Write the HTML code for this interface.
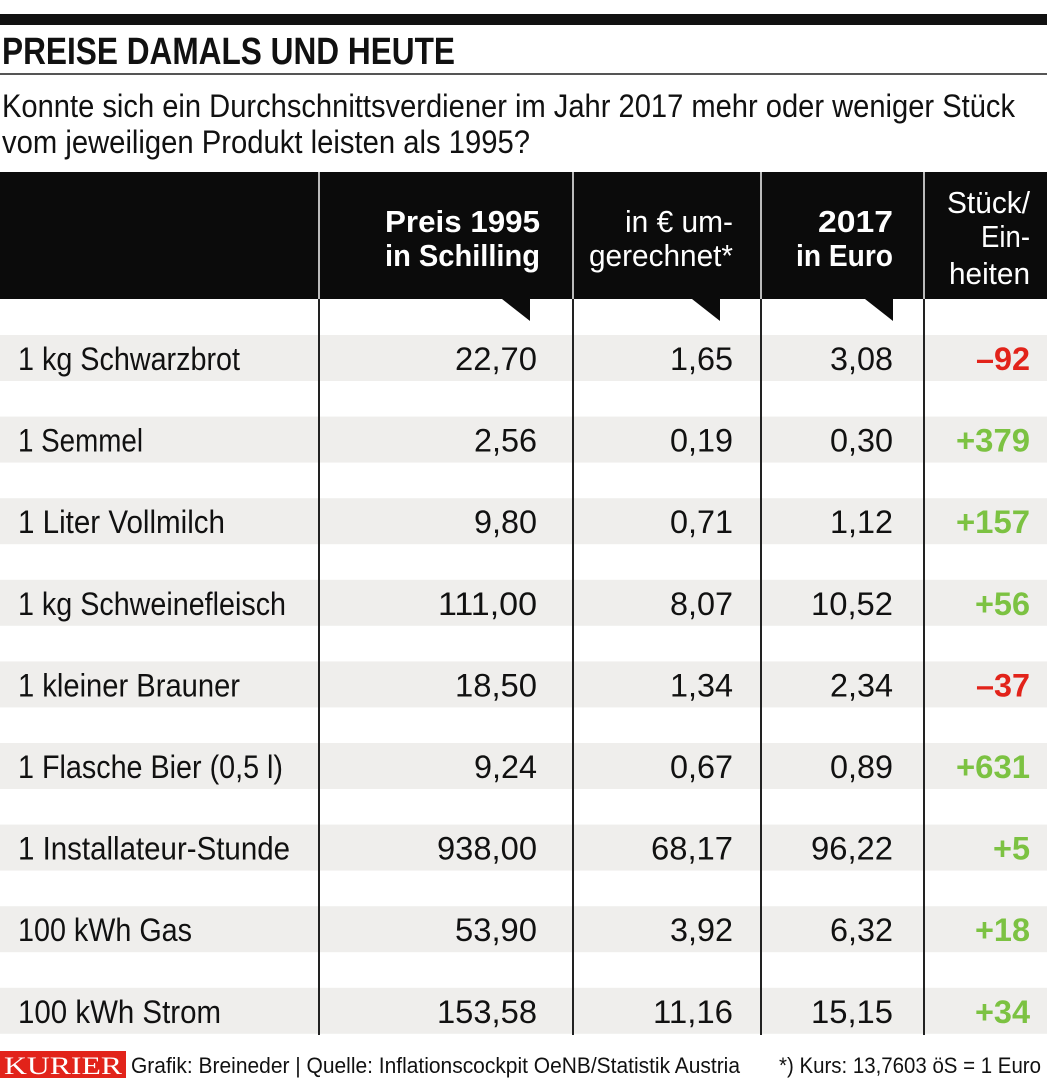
<!DOCTYPE html>
<html><head><meta charset="utf-8"><style>
html,body{margin:0;padding:0;background:#fff;}
svg{display:block;}
text{font-family:"Liberation Sans",sans-serif;}
</style></head><body>
<svg width="1047" height="1080" viewBox="0 0 1047 1080" xmlns="http://www.w3.org/2000/svg">
<rect x="0" y="14" width="1047" height="11" fill="#111"/>
<text x="2" y="64" font-size="38" font-weight="bold" fill="#111" textLength="453" lengthAdjust="spacingAndGlyphs">PREISE DAMALS UND HEUTE</text>
<rect x="0" y="73" width="1047" height="2" fill="#555"/>
<text x="2" y="117" font-size="32" fill="#111" textLength="1013" lengthAdjust="spacingAndGlyphs">Konnte sich ein Durchschnittsverdiener im Jahr 2017 mehr oder weniger Stück</text>
<text x="2" y="153" font-size="32" fill="#111" textLength="528" lengthAdjust="spacingAndGlyphs">vom jeweiligen Produkt leisten als 1995?</text>
<rect x="0" y="172" width="1047" height="127" fill="#0b0b0b"/>
<g fill="#fff" font-size="31">
<text x="385" y="232" font-weight="bold" textLength="155" lengthAdjust="spacingAndGlyphs">Preis 1995</text>
<text x="385" y="266" font-weight="bold" textLength="155" lengthAdjust="spacingAndGlyphs">in Schilling</text>
<text x="625" y="232" textLength="108" lengthAdjust="spacingAndGlyphs">in € um-</text>
<text x="589" y="266" textLength="144" lengthAdjust="spacingAndGlyphs">gerechnet*</text>
<text x="818" y="232" font-weight="bold" textLength="75" lengthAdjust="spacingAndGlyphs">2017</text>
<text x="796" y="266" font-weight="bold" textLength="97" lengthAdjust="spacingAndGlyphs">in Euro</text>
<text x="947" y="213" textLength="83" lengthAdjust="spacingAndGlyphs">Stück/</text>
<text x="981" y="247" textLength="49" lengthAdjust="spacingAndGlyphs">Ein-</text>
<text x="949" y="284" textLength="81" lengthAdjust="spacingAndGlyphs">heiten</text>
</g>
<g fill="#0b0b0b">
<polygon points="502,299 530,299 530,321"/>
<polygon points="692,299 720,299 720,321"/>
<polygon points="865,299 893,299 893,321"/>
</g>
<g fill="#efeeec">
<rect x="0" y="335" width="1047" height="46"/>
<rect x="0" y="416.6" width="1047" height="46"/>
<rect x="0" y="498.2" width="1047" height="46"/>
<rect x="0" y="579.8" width="1047" height="46"/>
<rect x="0" y="661.4" width="1047" height="46"/>
<rect x="0" y="743" width="1047" height="46"/>
<rect x="0" y="824.6" width="1047" height="46"/>
<rect x="0" y="906.2" width="1047" height="46"/>
<rect x="0" y="987.8" width="1047" height="46"/>
</g>
<g stroke-width="2">
<line x1="319" y1="172" x2="319" y2="299" stroke="#bbb"/>
<line x1="573" y1="172" x2="573" y2="299" stroke="#bbb"/>
<line x1="761" y1="172" x2="761" y2="299" stroke="#bbb"/>
<line x1="924" y1="172" x2="924" y2="299" stroke="#bbb"/>
<line x1="319" y1="299" x2="319" y2="1035" stroke="#222"/>
<line x1="573" y1="299" x2="573" y2="1035" stroke="#222"/>
<line x1="761" y1="299" x2="761" y2="1035" stroke="#222"/>
<line x1="924" y1="299" x2="924" y2="1035" stroke="#222"/>
</g>
<g font-size="32" fill="#111" lengthAdjust="spacingAndGlyphs">
<text x="18" y="370" textLength="222" lengthAdjust="spacingAndGlyphs">1 kg Schwarzbrot</text>
<text x="18" y="451.6" textLength="125" lengthAdjust="spacingAndGlyphs">1 Semmel</text>
<text x="18" y="533.2" textLength="207" lengthAdjust="spacingAndGlyphs">1 Liter Vollmilch</text>
<text x="18" y="614.8" textLength="268" lengthAdjust="spacingAndGlyphs">1 kg Schweinefleisch</text>
<text x="18" y="696.4" textLength="222" lengthAdjust="spacingAndGlyphs">1 kleiner Brauner</text>
<text x="18" y="778" textLength="265" lengthAdjust="spacingAndGlyphs">1 Flasche Bier (0,5 l)</text>
<text x="18" y="859.6" textLength="272" lengthAdjust="spacingAndGlyphs">1 Installateur-Stunde</text>
<text x="18" y="941.2" textLength="174" lengthAdjust="spacingAndGlyphs">100 kWh Gas</text>
<text x="18" y="1022.8" textLength="203" lengthAdjust="spacingAndGlyphs">100 kWh Strom</text>
</g>
<g font-size="32" fill="#111" text-anchor="end">
<text x="537" y="370" textLength="82" lengthAdjust="spacingAndGlyphs">22,70</text>
<text x="733" y="370" textLength="63" lengthAdjust="spacingAndGlyphs">1,65</text>
<text x="893" y="370" textLength="63" lengthAdjust="spacingAndGlyphs">3,08</text>
<text x="537" y="451.6" textLength="63" lengthAdjust="spacingAndGlyphs">2,56</text>
<text x="733" y="451.6" textLength="63" lengthAdjust="spacingAndGlyphs">0,19</text>
<text x="893" y="451.6" textLength="63" lengthAdjust="spacingAndGlyphs">0,30</text>
<text x="537" y="533.2" textLength="63" lengthAdjust="spacingAndGlyphs">9,80</text>
<text x="733" y="533.2" textLength="63" lengthAdjust="spacingAndGlyphs">0,71</text>
<text x="893" y="533.2" textLength="63" lengthAdjust="spacingAndGlyphs">1,12</text>
<text x="537" y="614.8" textLength="99" lengthAdjust="spacingAndGlyphs">111,00</text>
<text x="733" y="614.8" textLength="63" lengthAdjust="spacingAndGlyphs">8,07</text>
<text x="893" y="614.8" textLength="82" lengthAdjust="spacingAndGlyphs">10,52</text>
<text x="537" y="696.4" textLength="82" lengthAdjust="spacingAndGlyphs">18,50</text>
<text x="733" y="696.4" textLength="63" lengthAdjust="spacingAndGlyphs">1,34</text>
<text x="893" y="696.4" textLength="63" lengthAdjust="spacingAndGlyphs">2,34</text>
<text x="537" y="778" textLength="63" lengthAdjust="spacingAndGlyphs">9,24</text>
<text x="733" y="778" textLength="63" lengthAdjust="spacingAndGlyphs">0,67</text>
<text x="893" y="778" textLength="63" lengthAdjust="spacingAndGlyphs">0,89</text>
<text x="537" y="859.6" textLength="100" lengthAdjust="spacingAndGlyphs">938,00</text>
<text x="733" y="859.6" textLength="82" lengthAdjust="spacingAndGlyphs">68,17</text>
<text x="893" y="859.6" textLength="82" lengthAdjust="spacingAndGlyphs">96,22</text>
<text x="537" y="941.2" textLength="82" lengthAdjust="spacingAndGlyphs">53,90</text>
<text x="733" y="941.2" textLength="63" lengthAdjust="spacingAndGlyphs">3,92</text>
<text x="893" y="941.2" textLength="63" lengthAdjust="spacingAndGlyphs">6,32</text>
<text x="537" y="1022.8" textLength="100" lengthAdjust="spacingAndGlyphs">153,58</text>
<text x="733" y="1022.8" textLength="80" lengthAdjust="spacingAndGlyphs">11,16</text>
<text x="893" y="1022.8" textLength="82" lengthAdjust="spacingAndGlyphs">15,15</text>
</g>
<g font-size="32" font-weight="bold" text-anchor="end">
<text x="1030" y="370" fill="#e2231a" textLength="54" lengthAdjust="spacingAndGlyphs">–92</text>
<text x="1030" y="451.6" fill="#7cc242" textLength="74" lengthAdjust="spacingAndGlyphs">+379</text>
<text x="1030" y="533.2" fill="#7cc242" textLength="74" lengthAdjust="spacingAndGlyphs">+157</text>
<text x="1030" y="614.8" fill="#7cc242" textLength="55" lengthAdjust="spacingAndGlyphs">+56</text>
<text x="1030" y="696.4" fill="#e2231a" textLength="54" lengthAdjust="spacingAndGlyphs">–37</text>
<text x="1030" y="778" fill="#7cc242" textLength="74" lengthAdjust="spacingAndGlyphs">+631</text>
<text x="1030" y="859.6" fill="#7cc242" textLength="37" lengthAdjust="spacingAndGlyphs">+5</text>
<text x="1030" y="941.2" fill="#7cc242" textLength="55" lengthAdjust="spacingAndGlyphs">+18</text>
<text x="1030" y="1022.8" fill="#7cc242" textLength="55" lengthAdjust="spacingAndGlyphs">+34</text>
</g>
<rect x="0" y="1051" width="126" height="27" fill="#e2231a"/>
<text x="4" y="1074" font-family="Liberation Serif,serif" font-size="25" fill="#fff" textLength="118" lengthAdjust="spacingAndGlyphs" style="font-family:'Liberation Serif',serif">KURIER</text>
<text x="131" y="1073" font-size="22" fill="#111" textLength="609" lengthAdjust="spacingAndGlyphs">Grafik: Breineder | Quelle: Inflationscockpit OeNB/Statistik Austria</text>
<text x="779" y="1073" font-size="22" fill="#111" textLength="262" lengthAdjust="spacingAndGlyphs">*) Kurs: 13,7603 öS = 1 Euro</text>
</svg>
</body></html>
